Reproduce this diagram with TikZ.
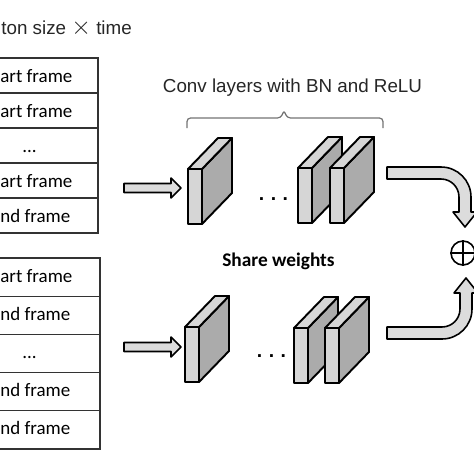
\documentclass[tikz,border=0pt]{standalone}
\usepackage{fontspec}
\setmainfont{Liberation Sans}
\newfontfamily\calibri{Carlito}
\usetikzlibrary{positioning}

\definecolor{facegray}{HTML}{D6D6D6}
\definecolor{sidegray}{HTML}{ABABAB}
\definecolor{arrowgray}{HTML}{DCDCDC}

\newcommand{\skiprow}{...}

\tikzset{
    cell/.style={draw=black!80, line width=0.6pt},
    celltext/.style={font=\calibri\fontsize{10.8}{13}\selectfont, inner sep=0pt, anchor=base west},
    caption/.style={font=\fontsize{10.7}{13}\selectfont, text=black!85, inner sep=0pt},
    outline/.style={draw=black, line width=1.1pt, line join=round},
    bracket/.style={draw=black!55, line width=0.7pt, rounded corners=2pt},
    layer/.pic={
        \draw[outline, fill=sidegray] (14,0) -- (44,-31) -- (44,24) -- (14,55) -- cycle;
        \draw[outline, fill=facegray] (0,0) -- (30,-31) -- (44,-31) -- (14,0) -- cycle;
        \draw[outline, fill=facegray] (0,0) rectangle (14,55);
    },
    inarrow/.pic={
        \draw[outline, line width=0.9pt, fill=arrowgray] (0,-4.5) -- (47,-4.5) -- (47,-10) -- (57,0) -- (47,10) -- (47,4.5) -- (0,4.5) -- cycle;
    }
}

\begin{document}
\begin{tikzpicture}[x=0.02cm, y=-0.02cm]
    \useasboundingbox (0,0) rectangle (474,474);

    % header
    \node[caption, anchor=base west] (dims) at (1,34) {ton size {\fontsize{14}{14}\selectfont$\times$} time};

    % top sequence
    \foreach \y/\x/\t [count=\i] in {58/0/art frame, 93/0/art frame, 128/22/\skiprow, 163/0/art frame, 198/0/nd frame}{
        \draw[cell] (-10,\y) rectangle (98,\y+35);
        \node[celltext] (top\i) at (\x,\y+24) {\t};
    }

    % bottom sequence
    \foreach \y/\x/\t [count=\i] in {258/0/art frame, 296.2/0/nd frame, 334.4/22/\skiprow, 372.6/0/nd frame, 410.8/0/nd frame}{
        \draw[cell] (-10,\y) rectangle (100,\y+38.2);
        \node[celltext] (bot\i) at (\x,\y+24) {\t};
    }

    % input arrows
    \pic at (124,188) {inarrow};
    \pic at (124,347) {inarrow};

    % conv layers
    \pic at (188,169) {layer};
    \pic at (298,168) {layer};
    \pic at (330,168) {layer};
    \pic at (185,327) {layer};
    \pic at (294,328) {layer};
    \pic at (325,328) {layer};

    \node[caption, text=black, font=\bfseries\fontsize{11}{13}\selectfont, anchor=base] (dotstop) at (274,205) {· · ·};
    \node[caption, text=black, font=\bfseries\fontsize{11}{13}\selectfont, anchor=base] (dotsbot) at (272,362) {· · ·};

    % brace and labels
    \draw[bracket] (187,128) -- (187,118) -- (281,118) -- (284,110) -- (287,118) -- (383,118) -- (383,128);
    \node[caption, anchor=base] (convlabel) at (292.5,92) {Conv layers with BN and ReLU};
    \node[font=\calibri\bfseries\fontsize{11}{13}\selectfont, inner sep=0pt, anchor=base] (share) at (278.5,266) {Share weights};

    % merge
    \draw[outline, line width=0.9pt, fill=arrowgray] (387,167) -- (441,167) arc[start angle=-90, end angle=0, radius=30] -- (471,212) -- (477,212) -- (465,227) -- (453,212) -- (459,212) -- (459,197) arc[start angle=0, end angle=-90, radius=18] -- (387,179) -- cycle;
    \draw[outline, line width=0.9pt, fill=arrowgray] (387,327) -- (442,327) arc[start angle=90, end angle=0, radius=18] -- (460,293) -- (454,293) -- (466,278) -- (478,293) -- (472,293) -- (472,309) arc[start angle=0, end angle=90, radius=30] -- (387,339) -- cycle;

    \node[circle, draw, line width=0.9pt, minimum size=0.48cm, inner sep=0pt] (sum) at (463,253) {};
    \draw[line width=0.9pt] (sum.north) -- (sum.south);
    \draw[line width=0.9pt] (sum.west) -- (sum.east);
\end{tikzpicture}
\end{document}
